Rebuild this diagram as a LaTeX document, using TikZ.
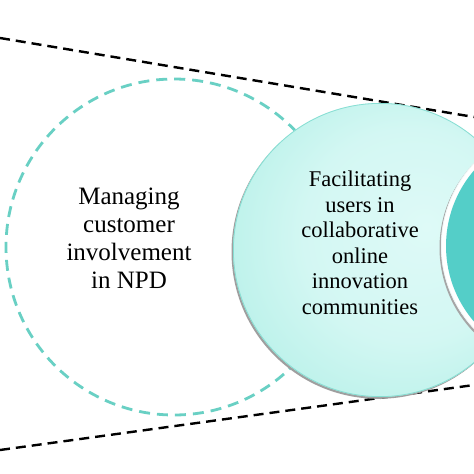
\documentclass[tikz,border=0pt]{standalone}
\usepackage{fontspec}
\setmainfont{Liberation Serif}
\definecolor{tealdash}{RGB}{105,208,196}
\definecolor{midedge}{RGB}{150,232,220}
\definecolor{midlight}{RGB}{222,250,247}
\definecolor{darkteal}{RGB}{84,206,200}
\pgfdeclareradialshading{midshade}{\pgfpoint{8bp}{4bp}}{color(0bp)=(midlight); color(18bp)=(midlight!85!midedge); color(50bp)=(midedge)}
\begin{document}
\begin{tikzpicture}[x=1pt,y=-1pt,
  frameline/.style={black, line width=2.4pt, dash pattern=on 10pt off 6pt},
  dashring/.style={tealdash, line width=2.8pt, dash pattern=on 11pt off 7pt},
  lefttext/.style={align=center, inner sep=0pt, font=\fontsize{25}{28}\selectfont},
  righttext/.style={align=center, inner sep=0pt, font=\fontsize{22.5}{25.5}\selectfont}]
\useasboundingbox (0,0) rectangle (474,474);
\fill[white] (0,0) rectangle (474,474);
% frame lines
\coordinate (tl) at (0,38);
\coordinate (tr) at (474,117);
\coordinate (bl) at (0,450);
\coordinate (br) at (474,385);
\draw[frameline] (tl) -- (tr);
\draw[frameline] (bl) -- (br);
% left dashed circle
\coordinate (lc) at (174,247);
\draw[dashring] (lc) circle[radius=168];
% middle circle
\coordinate (mc) at (380,250);
\fill[gray!75] ([shift={(-1.5,1.8)}]mc) circle[radius=147];
\shade[shading=midshade] (mc) circle[radius=147];
\draw[midedge!90!teal, line width=0.8pt] (mc) circle[radius=146.6];
% right circle
\coordinate (rc) at (562,246);
\fill[gray!70] ([shift={(-1.5,1.8)}]rc) circle[radius=121];
\fill[white] (rc) circle[radius=121];
\draw[white!92!teal, line width=0.6pt] (rc) circle[radius=120.7];
\fill[darkteal] (rc) circle[radius=116];
% texts
\node[lefttext] (lefttxt) at (129,238) {Managing\\customer\\involvement\\in NPD};
\node[righttext] (righttxt) at (360,243) {Facilitating\\users in\\collaborative\\online\\innovation\\communities};
\end{tikzpicture}
\end{document}
